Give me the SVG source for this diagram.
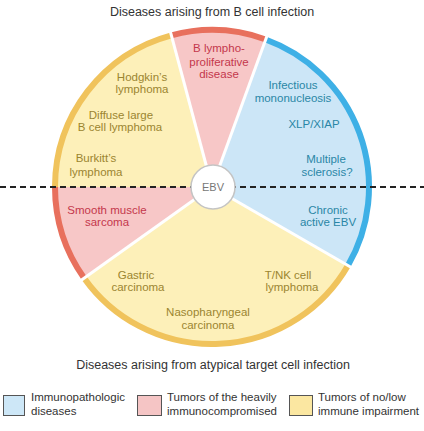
<svg xmlns="http://www.w3.org/2000/svg" width="424" height="431" viewBox="0 0 424 431">
<style>
text{font-family:"Liberation Sans",Arial,sans-serif;}
.title{font-size:12.5px;fill:#333;text-anchor:middle;}
.lbl{font-size:11.5px;text-anchor:middle;}
.ty{fill:#9b8530;}
.tr{fill:#c4374c;}
.tb{fill:#2a86a6;}
.fy{fill:#fdf0b9;}
.fr{fill:#f7c7c7;}
.fb{fill:#cce6f7;}
.band{fill:none;stroke-width:6;}
.by{stroke:#f0c35c;}
.br{stroke:#e8705d;}
.bb{stroke:#3eb0e6;}
.sep{stroke:#fff;stroke-width:3;}
.leg{font-size:11.5px;fill:#333;}
.box{stroke:#555;stroke-width:1;}
</style>
<rect width="424" height="431" fill="#fff"/>
<text class="title" x="212" y="16">Diseases arising from B cell infection</text>

<g id="sector-upper-left">
<path class="fy" d="M212,187 L55,187 A157,157 0 0 1 171.37,35.35 Z"/>
<path class="band by" d="M55,187 A157,157 0 0 1 171.37,35.35"/>
<text class="lbl ty" x="142" y="81">Hodgkin’s</text>
<text class="lbl ty" x="142" y="93">lymphoma</text>
<text class="lbl ty" x="121" y="119">Diffuse large</text>
<text class="lbl ty" x="120" y="131">B cell lymphoma</text>
<text class="lbl ty" x="96" y="162">Burkitt’s</text>
<text class="lbl ty" x="96" y="176">lymphoma</text>
</g>

<g id="sector-top">
<path class="fr" d="M212,187 L171.37,35.35 A157,157 0 0 1 265.70,39.47 Z"/>
<path class="band br" d="M171.37,35.35 A157,157 0 0 1 265.70,39.47"/>
<text class="lbl tr" x="219" y="52">B lympho-</text>
<text class="lbl tr" x="219" y="66">proliferative</text>
<text class="lbl tr" x="219" y="78">disease</text>
</g>

<g id="sector-right">
<path class="fb" d="M212,187 L265.70,39.47 A157,157 0 0 1 347.97,265.5 Z"/>
<path class="band bb" d="M265.70,39.47 A157,157 0 0 1 347.97,265.5"/>
<text class="lbl tb" x="293" y="89">Infectious</text>
<text class="lbl tb" x="293" y="102">mononucleosis</text>
<text class="lbl tb" x="314" y="128">XLP/XIAP</text>
<text class="lbl tb" x="326" y="163">Multiple</text>
<text class="lbl tb" x="327" y="176">sclerosis?</text>
<text class="lbl tb" x="328" y="214">Chronic</text>
<text class="lbl tb" x="328" y="226">active EBV</text>
</g>

<g id="sector-bottom">
<path class="fy" d="M212,187 L347.97,265.5 A157,157 0 0 1 84.19,278.17 Z"/>
<path class="band by" d="M347.97,265.5 A157,157 0 0 1 84.19,278.17"/>
<text class="lbl ty" x="136" y="279">Gastric</text>
<text class="lbl ty" x="138" y="291">carcinoma</text>
<text class="lbl ty" x="208" y="316">Nasopharyngeal</text>
<text class="lbl ty" x="208" y="329">carcinoma</text>
<text class="lbl ty" x="288" y="279">T/NK cell</text>
<text class="lbl ty" x="292" y="291">lymphoma</text>
</g>

<g id="sector-lower-left">
<path class="fr" d="M212,187 L84.19,278.17 A157,157 0 0 1 55,187 Z"/>
<path class="band br" d="M84.19,278.17 A157,157 0 0 1 55,187"/>
<text class="lbl tr" x="107" y="214">Smooth muscle</text>
<text class="lbl tr" x="107" y="226">sarcoma</text>
</g>

<g id="connectors">
<line class="sep" x1="212" y1="187" x2="169.29" y2="27.62"/>
<line class="sep" x1="212" y1="187" x2="268.43" y2="31.95"/>
<line class="sep" x1="212" y1="187" x2="354.89" y2="269.5"/>
<line class="sep" x1="212" y1="187" x2="77.67" y2="282.82"/>
<line x1="0" y1="187" x2="424" y2="187" stroke="#222" stroke-width="2" stroke-dasharray="6 4"/>
</g>

<g id="ebv">
<circle cx="213" cy="187" r="22" fill="#fff" stroke="#c4c4c4" stroke-width="1.5"/>
<text x="213" y="191" font-size="11" fill="#777" text-anchor="middle">EBV</text>
</g>

<text class="title" x="213" y="369">Diseases arising from atypical target cell infection</text>

<g id="legend-immunopathologic">
<rect class="box" x="3.5" y="395.5" width="21" height="20" fill="#cde7f7"/>
<text class="leg" x="31" y="401">Immunopathologic</text>
<text class="leg" x="31" y="415">diseases</text>
</g>
<g id="legend-heavily">
<rect class="box" x="137.5" y="395.5" width="24" height="20" fill="#f5c5c5"/>
<text class="leg" x="167" y="401">Tumors of the heavily</text>
<text class="leg" x="167" y="415">immunocompromised</text>
</g>
<g id="legend-nolow">
<rect class="box" x="289.5" y="395.5" width="23" height="20" fill="#fbe7a1"/>
<text class="leg" x="318" y="401">Tumors of no/low</text>
<text class="leg" x="318" y="415">immune impairment</text>
</g>
</svg>
